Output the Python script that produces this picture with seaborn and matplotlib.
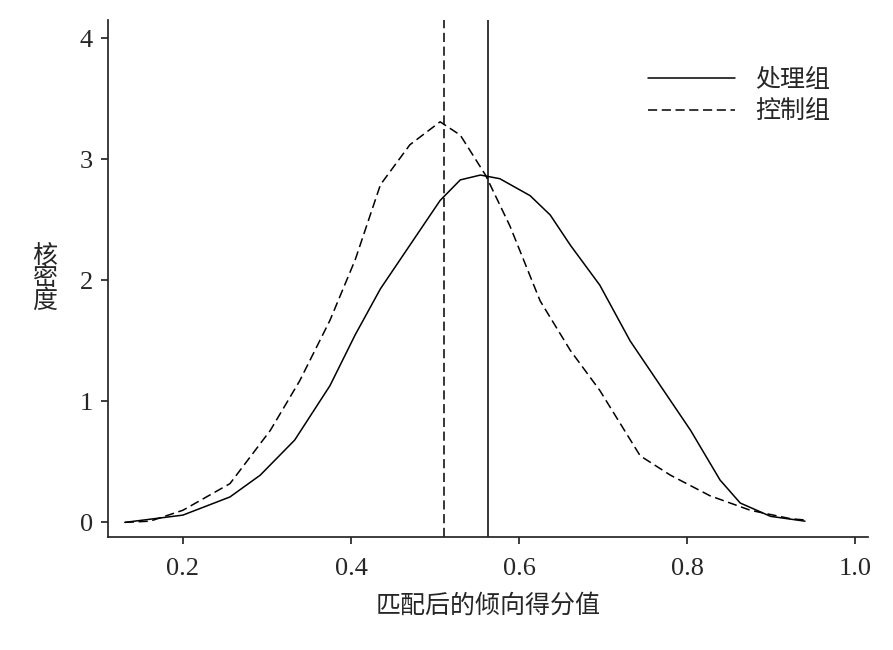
import pandas as pd
import seaborn as sns
import matplotlib.pyplot as plt

treat_x = [0.131, 0.2, 0.256, 0.292, 0.333, 0.375, 0.405, 0.435, 0.47, 0.506, 0.53, 0.554,
           0.577, 0.613, 0.637, 0.661, 0.696, 0.732, 0.768, 0.804, 0.839, 0.863, 0.899, 0.94]
treat_y = [0.0, 0.06, 0.21, 0.39, 0.68, 1.13, 1.55, 1.93, 2.29, 2.66, 2.83, 2.87,
           2.84, 2.70, 2.54, 2.29, 1.96, 1.50, 1.13, 0.76, 0.35, 0.16, 0.05, 0.01]
ctrl_x = [0.131, 0.161, 0.2, 0.256, 0.304, 0.339, 0.375, 0.405, 0.435, 0.47, 0.506, 0.53,
          0.56, 0.589, 0.625, 0.661, 0.696, 0.744, 0.78, 0.827, 0.875, 0.923, 0.94]
ctrl_y = [0.0, 0.01, 0.1, 0.32, 0.76, 1.17, 1.67, 2.17, 2.79, 3.12, 3.31, 3.2,
          2.87, 2.45, 1.83, 1.42, 1.09, 0.55, 0.39, 0.22, 0.1, 0.03, 0.02]
treat_mean = 0.563
ctrl_mean = 0.511

sns.set_theme(style="ticks")
plt.rcParams['font.family'] = ['Liberation Serif', 'Noto Sans CJK SC']

df = pd.concat([
    pd.DataFrame({'x': treat_x, 'y': treat_y, 'g': '处理组'}),
    pd.DataFrame({'x': ctrl_x, 'y': ctrl_y, 'g': '控制组'}),
])

fig = plt.figure(figsize=(8.93, 6.5), dpi=100)
ax = fig.add_axes([0.121, 0.174, 0.851, 0.795])
sns.lineplot(data=df, x='x', y='y', hue='g', style='g',
             palette=['black', 'black'], dashes=[(None, None), (6, 3)],
             linewidth=1.1, ax=ax)
ax.axvline(treat_mean, color='black', linewidth=1.1)
ax.axvline(ctrl_mean, color='black', linewidth=1.1, linestyle=(0, (6, 3)))

ax.set_xlim(0.111, 1.015)
ax.set_ylim(-0.12, 4.15)
ax.set_xticks([0.2, 0.4, 0.6, 0.8, 1.0])
ax.set_xticklabels(['0.2', '0.4', '0.6', '0.8', '1.0'])
ax.set_yticks([0, 1, 2, 3, 4])
ax.tick_params(labelsize=19, direction='out', length=5)
ax.tick_params(axis='x', pad=10)
ax.tick_params(axis='y', pad=6)
ax.set_xlabel('匹配后的倾向得分值', fontsize=18, labelpad=10)
ax.set_ylabel('核\n密\n度', fontsize=18, rotation=0, va='center', labelpad=25,
              linespacing=0.95)
sns.despine(ax=ax)
leg = ax.legend(title=None, frameon=False, fontsize=18, loc='upper right',
                handlelength=3.5, bbox_to_anchor=(0.98, 0.95), labelspacing=0.35)
fig.savefig('out.png', dpi=100)
